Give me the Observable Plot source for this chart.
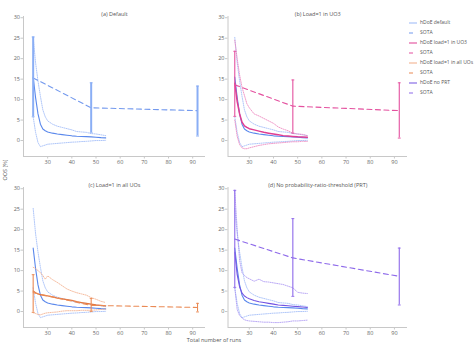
<!DOCTYPE html>
<html><head><meta charset="utf-8">
<script src="https://cdn.jsdelivr.net/npm/d3@7"></script>
<script src="https://cdn.jsdelivr.net/npm/@observablehq/plot@0.6"></script>
<style>
body{margin:0;background:#fff;}
#chart{position:relative;width:474px;height:347px;font-family:"Open Sans",sans-serif;overflow:hidden;background:#fff;}
.panel{position:absolute;}
.panel svg{overflow:visible;}
g[aria-label="x-axis tick"], g[aria-label="y-axis tick"]{stroke:#c8c8c8;}
.lbl{position:absolute;color:#555;font-size:5.5px;white-space:nowrap;line-height:1;}
.leg{position:absolute;left:409px;font-size:5px;color:#555;white-space:nowrap;line-height:1;}
.leg span.sym{display:inline-block;vertical-align:middle;margin-right:3px;}
</style>
</head><body>
<div id="chart"></div>
<script>
// ---------- data ----------
const runs = [24,25,26,27,28,29,30,32,34,36,38,40,42,44,46,48,50,52,54];

const defaultMean  = [15.5,10.5,6.5,4.0,2.8,2.4,2.1,1.8,1.6,1.45,1.3,1.15,1.05,1.0,0.95,0.9,0.8,0.7,0.65];
const defaultUpper = [25.2,19.0,14.5,10.8,7.5,5.8,4.8,4.0,3.5,3.2,2.9,2.6,2.2,2.1,2.0,1.7,1.6,1.4,1.2];
const defaultLower = [5.8,2.0,-0.5,-1.5,-1.3,-1.1,-0.9,-0.8,-0.7,-0.6,-0.5,-0.4,-0.35,-0.25,-0.2,-0.1,0.0,0.0,0.05];

const uo3Mean  = [14.0,9.5,6.5,4.5,3.6,3.2,2.9,2.6,2.3,2.0,1.8,1.6,1.4,1.2,1.1,1.0,0.9,0.85,0.8];
const uo3Upper = [24.5,20.0,16.0,13.0,11.0,9.0,8.0,6.5,6.0,5.4,4.8,4.2,3.3,2.8,2.4,1.8,1.6,1.5,1.2];
const uo3Lower = [5.0,1.0,-1.0,-1.8,-2.0,-2.0,-1.8,-1.5,-1.2,-1.0,-0.8,-0.7,-0.6,-0.5,-0.4,-0.3,-0.3,-0.2,-0.2];

const allMean  = [5.0,4.6,4.3,4.1,4.0,3.9,3.8,3.6,3.3,3.1,2.9,2.7,2.4,2.2,2.0,1.8,1.6,1.5,1.4];
const allUpper = [10.8,10.5,10.0,9.5,8.8,7.9,8.7,7.8,7.1,6.3,5.5,5.0,4.6,4.3,4.0,3.4,3.0,2.5,2.2];
const allLower = [-0.3,-0.5,-0.7,-0.8,-0.6,-0.4,-0.3,-0.2,-0.1,0.1,0.2,0.2,0.2,0.3,0.3,0.3,0.4,0.5,0.6];

const noPrtMean  = [14.5,9.0,6.0,4.5,3.8,3.4,3.1,2.7,2.4,2.2,2.0,1.8,1.6,1.5,1.4,1.3,1.2,1.1,1.0];
const noPrtUpper = [29.5,20.0,12.5,9.5,8.8,8.3,8.0,7.4,7.9,7.3,7.2,7.0,6.8,6.6,6.2,5.8,4.7,4.5,4.4];
const noPrtLower = [5.8,0.5,-1.0,-1.6,-2.0,-2.2,-2.3,-2.4,-2.5,-2.6,-2.6,-2.7,-2.7,-2.6,-2.5,-2.3,-2.3,-2.2,-2.1];

const sotaRuns = [24,48,92];
const sotaDefault = [15.3,8.0,7.3],  sotaDefaultLo = [5.8,1.9,1.1],  sotaDefaultHi = [25.3,14.1,13.3];
const sotaUo3     = [13.6,8.4,7.3],  sotaUo3Lo     = [5.9,1.8,0.6],  sotaUo3Hi     = [21.8,14.8,14.1];
const sotaAll     = [4.6,1.5,1.0],   sotaAllLo     = [-0.2,0.0,-0.1],sotaAllHi     = [9.0,3.2,2.0];
const sotaNoPrt   = [17.7,13.1,8.6], sotaNoPrtLo   = [5.9,3.7,1.6],  sotaNoPrtHi   = [29.6,22.7,15.5];

const panelTitles = ["(a) Default","(b) Load=1 in UO3","(c) Load=1 in all UOs","(d) No probability-ratio-threshold (PRT)"];
const xTicks = [30,40,50,60,70,80,90];
const yTicks = [0,5,10,15,20,25,30];
const legendLabels = ["hDoE default","SOTA","hDoE load=1 in UO3","SOTA","hDoE load=1 in all UOs","SOTA","hDoE no PRT","SOTA"];
const yTitle = "OOS [%]";
const xTitle = "Total number of runs";

// ---------- styles ----------
const C = {
  blue:   {mean:"#5a88ec", band:"#9ab8f8", sota:"#7399ee", bar:"#8aaef5", mw:1.1},
  magenta:{mean:"#e03d92", band:"#ec80bb", sota:"#e4519f", bar:"#e4519f", mw:1.5},
  orange: {mean:"#e4773f", band:"#f2ab86", sota:"#ea8a55", bar:"#ea8a55", mw:1.3},
  purple: {mean:"#7353e2", band:"#a893f2", sota:"#8e6aea", bar:"#8e6aea", mw:1.1}
};
const yDomain = [-3.9, 30.3];

function pts(ys){ return runs.map((x,i)=>({x, y: ys[i]})); }

function hdoeMarks(mean, upper, lower, c){
  return [
    Plot.line(pts(upper), {x:"x", y:"y", stroke:c.band, strokeWidth:0.8, strokeDasharray:"1,1.2", curve:"linear"}),
    Plot.line(pts(lower), {x:"x", y:"y", stroke:c.band, strokeWidth:0.8, strokeDasharray:"1,1.2", curve:"linear"}),
    Plot.line(pts(mean),  {x:"x", y:"y", stroke:c.mean, strokeWidth:c.mw, curve:"linear"})
  ];
}
function sotaMarks(m, lo, hi, c, bw){
  const d = sotaRuns.map((x,i)=>({x, y:m[i], lo:lo[i], hi:hi[i]}));
  return [
    Plot.line(d, {x:"x", y:"y", stroke:c.sota, strokeWidth:1.1, strokeDasharray:"5,3.5"}),
    Plot.ruleX(d, {x:"x", y1:"lo", y2:"hi", stroke:c.bar, strokeWidth:bw}),
    Plot.link(d, {x1:dd=>dd.x-0.6, x2:dd=>dd.x+0.6, y1:"hi", y2:"hi", stroke:c.bar, strokeWidth:0.9}),
    Plot.link(d, {x1:dd=>dd.x-0.6, x2:dd=>dd.x+0.6, y1:"lo", y2:"lo", stroke:c.bar, strokeWidth:0.9})
  ];
}

function panel(cfg){
  const marks = [
    Plot.ruleX([cfg.xDomain[0]], {stroke:"#c8c8c8", strokeWidth:1}),
    Plot.ruleY([yDomain[0]], {stroke:"#c8c8c8", strokeWidth:1}),
    ...hdoeMarks(defaultMean, defaultUpper, defaultLower, C.blue),
    ...(cfg.own ? hdoeMarks(cfg.own[0], cfg.own[1], cfg.own[2], cfg.c) : []),
    ...sotaMarks(cfg.sota[0], cfg.sota[1], cfg.sota[2], cfg.c, cfg.bw),
    Plot.text([cfg.title], {frameAnchor:"top", lineAnchor:"middle", dy:-2.5, fill:"#555", fontSize:5.5})
  ];
  const svg = Plot.plot({
    width:215, height:172,
    marginLeft:cfg.ml, marginRight:cfg.mr, marginTop:16, marginBottom:16,
    x:{domain:cfg.xDomain, ticks:xTicks, tickSize:2.5, tickPadding:1.5, label:null},
    y:{domain:yDomain, ticks:yTicks, tickSize:2.5, tickPadding:1, label:null},
    style:{fontFamily:"Open Sans", fontSize:"5.5px", color:"#666", background:"transparent", overflow:"visible"},
    marks
  });
  const div = document.createElement("div");
  div.className = "panel";
  div.style.left = cfg.left + "px";
  div.style.top = cfg.top + "px";
  div.appendChild(svg);
  document.getElementById("chart").appendChild(div);
}

const leftX = [20, 95.3], rightX = [21.2, 95.4];
panel({title:panelTitles[0], left:0,   top:0,   ml:23,   mr:10, xDomain:leftX,  c:C.blue,    bw:2,   sota:[sotaDefault,sotaDefaultLo,sotaDefaultHi]});
panel({title:panelTitles[1], left:205, top:0,   ml:22.5, mr:13, xDomain:rightX, c:C.magenta, bw:1.1, own:[uo3Mean,uo3Upper,uo3Lower], sota:[sotaUo3,sotaUo3Lo,sotaUo3Hi]});
panel({title:panelTitles[2], left:0,   top:171, ml:23,   mr:10, xDomain:leftX,  c:C.orange,  bw:1.1, own:[allMean,allUpper,allLower], sota:[sotaAll,sotaAllLo,sotaAllHi]});
panel({title:panelTitles[3], left:205, top:171, ml:22.5, mr:13, xDomain:rightX, c:C.purple,  bw:1.1, own:[noPrtMean,noPrtUpper,noPrtLower], sota:[sotaNoPrt,sotaNoPrtLo,sotaNoPrtHi]});

// ---------- axis titles ----------
const chart = document.getElementById("chart");
const yl = document.createElement("div");
yl.className = "lbl"; yl.textContent = yTitle;
yl.style.left = "6px"; yl.style.top = "170px";
yl.style.transform = "translate(-50%,-50%) rotate(-90deg)";
chart.appendChild(yl);
const xl = document.createElement("div");
xl.className = "lbl"; xl.textContent = xTitle;
xl.style.left = "214px"; xl.style.top = "341px";
xl.style.transform = "translate(-50%,-50%)";
chart.appendChild(xl);

// ---------- legend ----------
const legendStyles = [
  [C.blue.band,1.1,8],[C.blue.sota,1.1,3.5],
  [C.magenta.mean,1.6,8],[C.magenta.sota,1.1,3.5],
  [C.orange.band,1.2,8],[C.orange.sota,1.1,3.5],
  [C.purple.mean,1.2,8],[C.purple.sota,1.1,3.5]
];
legendLabels.forEach((t,i)=>{
  const row = document.createElement("div");
  row.className = "leg";
  row.style.top = (22 + i*10) + "px";
  row.style.transform = "translateY(-50%)";
  const [col,w,len] = legendStyles[i];
  const sym = document.createElement("span");
  sym.className = "sym";
  sym.style.width = "8px"; sym.style.height = "0";
  const inner = document.createElement("span");
  inner.style.display = "block"; inner.style.width = len + "px";
  inner.style.borderTop = w + "px solid " + col;
  sym.appendChild(inner);
  row.appendChild(sym);
  row.appendChild(document.createTextNode(t));
  chart.appendChild(row);
});
</script>
</body></html>
